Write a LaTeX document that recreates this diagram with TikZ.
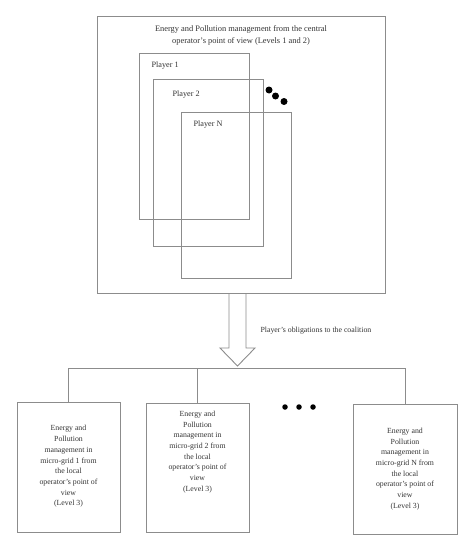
\documentclass[tikz,border=0pt]{standalone}
\usepackage{fontspec}
\setmainfont{Liberation Serif}
\usepackage{tikz}
\usetikzlibrary{positioning}

\tikzset{
	frame/.style={draw=black!45,line width=0.9pt,rectangle,inner sep=0pt},
	txt/.style={text=black!80,font=\fontsize{7.8}{10.7}\selectfont,align=center},
	dot/.style={circle,fill=black,inner sep=0pt,minimum size=#1},
}

\begin{document}
\begin{tikzpicture}[x=1pt,y=-1pt]
	\useasboundingbox (0,0) rectangle (474,551);
	% central operator
	\node[frame,minimum width=288,minimum height=277] (top) at (241,154.5) {};
	\node[txt,font=\fontsize{8.4}{12}\selectfont] (title) at (241,35) {Energy and Pollution management from the central\\operator's point of view (Levels 1 and 2)};
	% players
	\node[frame,minimum width=110,minimum height=166] (p1) at (194,136) {};
	\node[frame,minimum width=110,minimum height=167] (p2) at (208,162.5) {};
	\node[frame,minimum width=110,minimum height=166] (pN) at (236,195) {};
	\node[txt,anchor=west,font=\fontsize{8.2}{10}\selectfont] (l1) at (148,66) {Player 1};
	\node[txt,anchor=west,font=\fontsize{8.2}{10}\selectfont] (l2) at (169,95) {Player 2};
	\node[txt,anchor=west,font=\fontsize{8.2}{10}\selectfont] (lN) at (190,125) {Player N};
	\node[dot=7] (d1) at (269,90) {};
	\node[dot=7] (d2) at (275.5,96) {};
	\node[dot=7] (d3) at (284,101.5) {};
	% arrow to the coalition
	\draw[draw=black!45,line width=0.9pt] (229,293) -- (229,348) -- (220,348) -- (237.5,366)
		-- (255,348) -- (246,348) -- (246,293);
	\node[txt,anchor=west,font=\fontsize{7.8}{10}\selectfont] (obl) at (257,331) {Player's obligations to the coalition};
	% micro-grids
	\node[frame,minimum width=103,minimum height=130] (g1) at (68.5,467) {};
	\node[frame,minimum width=103,minimum height=129] (g2) at (197.5,467.5) {};
	\node[frame,minimum width=104,minimum height=130] (gN) at (405,469) {};
	\node[txt] (t1) at (68.5,466.5) {Energy and\\Pollution\\management in\\micro-grid 1 from\\the local\\operator's point of\\view\\(Level 3)};
	\node[txt] (t2) at (197.5,452) {Energy and\\Pollution\\management in\\micro-grid 2 from\\the local\\operator's point of\\view\\(Level 3)};
	\node[txt] (tN) at (405,469) {Energy and\\Pollution\\management in\\micro-grid N from\\the local\\operator's point of\\view\\(Level 3)};
	\node[dot=5.5] (e1) at (285,407) {};
	\node[dot=5.5] (e2) at (299,407) {};
	\node[dot=5.5] (e3) at (313,407) {};
	\coordinate (bus) at (237.5,368);
	\path[draw=black!45,line width=0.9pt]
	(g1.north |- bus) edge[-] (gN.north |- bus)
	(g1.north |- bus) edge[-] (g1.north)
	(g2.north |- bus) edge[-] (g2.north)
	(gN.north |- bus) edge[-] (gN.north)
	;
\end{tikzpicture}
\end{document}
